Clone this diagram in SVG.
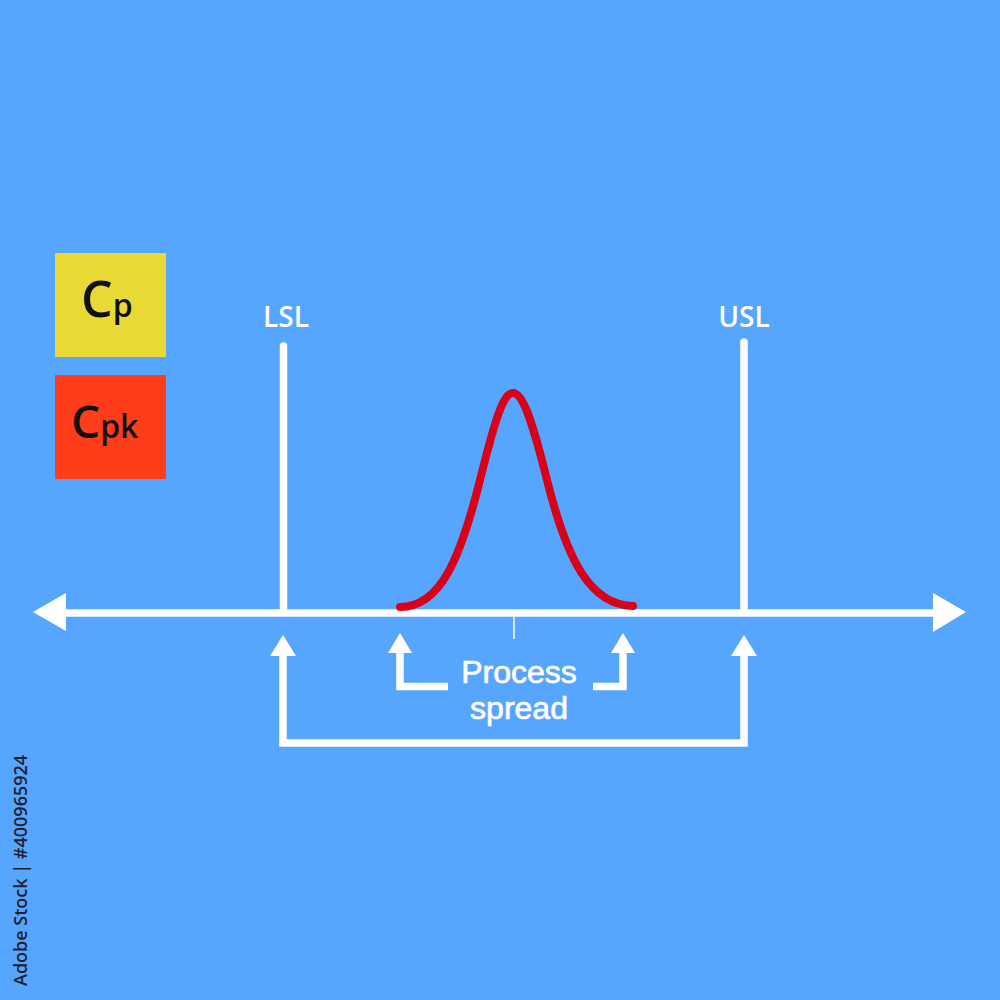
<svg xmlns="http://www.w3.org/2000/svg" width="1000" height="1000" viewBox="0 0 1000 1000">
<style>
.ln{stroke:#FFFFFF;stroke-width:7.5;fill:none}
.lim{stroke:#FFFFFF;stroke-width:7.5;stroke-linecap:round;fill:none}
.head{fill:#FFFFFF}
.lbl{font-family:"Open Sans","Liberation Sans",sans-serif;fill:#FFFFFF;font-weight:600}
.cap{font-family:"Liberation Sans",Arial,sans-serif;fill:#FFFFFF;stroke:#FFFFFF;stroke-width:0.7}
.sym{font-family:"Open Sans","Liberation Sans",sans-serif;fill:#111111;font-weight:600}
</style>
<rect width="1000" height="1000" fill="#56A5FE"/>
<g id="cp-box">
<rect x="55" y="253" width="111" height="104" fill="#E8D934"/>
<text class="sym" x="81" y="317" font-size="50">C<tspan font-size="32">p</tspan></text>
</g>
<g id="cpk-box">
<rect x="55" y="375" width="111" height="104" fill="#FF3D1A"/>
<text class="sym" x="71" y="438" font-size="46">C<tspan font-size="32">pk</tspan></text>
</g>
<g id="axis">
<line class="ln" x1="60" y1="613" x2="940" y2="613"/>
<polygon class="head" points="33,612 66,593 66,631"/>
<polygon class="head" points="966,612 933,593 933,632"/>
<line x1="514" y1="616" x2="514" y2="639" stroke="#FFFFFF" stroke-width="1.5"/>
</g>
<g id="lsl">
<line class="lim" x1="283.5" y1="346" x2="283.5" y2="612"/>
<text class="lbl" x="286" y="327" font-size="28" text-anchor="middle">LSL</text>
</g>
<g id="usl">
<line class="lim" x1="744" y1="342" x2="744" y2="612"/>
<text class="lbl" x="744" y="327" font-size="28" text-anchor="middle">USL</text>
</g>
<g id="bell-curve">
<path d="M400,607 C440,607 460,560 480,480 C495,420 503,393 513,393 C523,393 532,420 547,480 C567,560 590,605 633,606" fill="none" stroke="#D9001A" stroke-width="8" stroke-linecap="round"/>
</g>
<g id="connectors">
<polyline class="ln" points="283,652 283,743 744,743 744,652"/>
<polygon class="head" points="283,635 270,656 296,656"/>
<polygon class="head" points="744,635 731,656 757,656"/>
<polyline class="ln" points="400,650 400,686.5 448,686.5"/>
<polygon class="head" points="400,633 388,653 412,653"/>
<polyline class="ln" points="593,686.5 623,686.5 623,650"/>
<polygon class="head" points="623,633 611,653 635,653"/>
</g>
<g id="process-spread">
<text class="cap" x="519" y="683" font-size="32" text-anchor="middle">Process</text>
<text class="cap" x="519" y="719" font-size="32" text-anchor="middle">spread</text>
</g>
<text x="27" y="986" transform="rotate(-90 27 986)" font-family="Open Sans, Liberation Sans, sans-serif" font-size="18" font-weight="600" fill="#1E2230">Adobe Stock | #400965924</text>
</svg>
